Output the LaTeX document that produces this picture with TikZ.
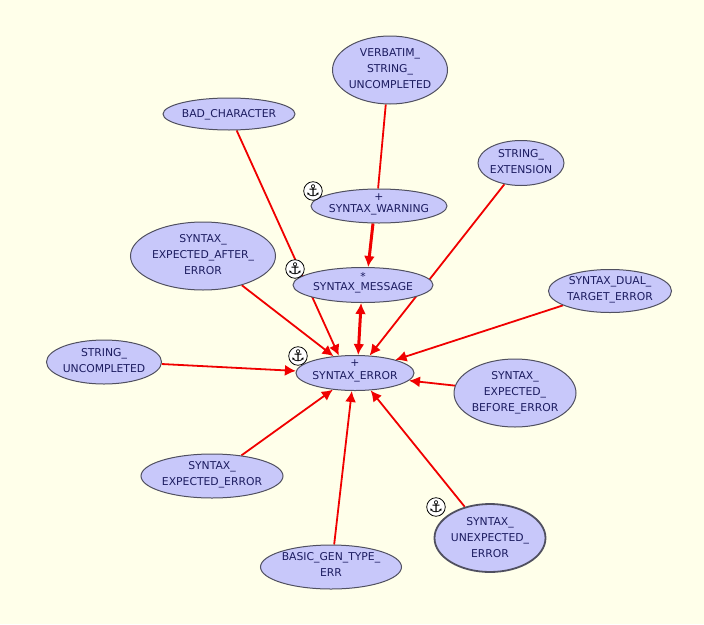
\documentclass[tikz,border=0pt]{standalone}
\usepackage{fontspec}
\setmainfont{DejaVu Sans}
\usetikzlibrary{shapes.geometric,arrows.meta,backgrounds}
\definecolor{bgc}{HTML}{FFFFEA}
\definecolor{nodefill}{HTML}{C8C8FA}
\definecolor{nodeline}{HTML}{505060}
\definecolor{nodetext}{HTML}{1C1C60}
\definecolor{edgered}{HTML}{F00000}
\newcommand\lbl[1]{\begin{tabular}{@{}c@{}}#1\end{tabular}}
\tikzset{
 cls/.style={ellipse,draw=nodeline,fill=nodefill,line width=1pt,inner sep=-8pt,text=nodetext,
   font=\fontsize{10.8}{16}\selectfont},
 deferred/.style={cls,line width=1.8pt},
 edge/.style={draw=edgered,line width=1.8pt,-{Latex[length=11pt,width=11pt]}},
 plain/.style={draw=edgered,line width=1.8pt},
 heavy/.style={draw=edgered,line width=3pt,-{Latex[length=11pt,width=11pt]}},
 both/.style={draw=edgered,line width=3pt,{Latex[length=11pt,width=11pt]}-{Latex[length=11pt,width=11pt]}},
 anchormark/.style={circle,draw=black,fill=white,line width=0.8pt,inner sep=0pt,minimum size=17pt,text=black,
   font=\fontsize{16}{16}\selectfont},
}
\begin{document}
\begin{tikzpicture}[x=1pt,y=-1pt]
\useasboundingbox (0,0) rectangle (704,624);
\node[cls,minimum width=115pt,minimum height=68pt] (ver) at (390,70) {\lbl{VERBATIM\_\\STRING\_\\UNCOMPLETED\\[2pt]}};
\node[cls,minimum width=132pt,minimum height=32pt] (bad) at (229,114) {\rule{0pt}{10.5pt}BAD\_CHARACTER};
\node[cls,minimum width=86pt,minimum height=45pt] (ext) at (521,163) {\lbl{STRING\_\\EXTENSION\\[2pt]}};
\node[cls,minimum width=136pt,minimum height=34pt] (warn) at (379,206) {\lbl{+\\[-4pt]SYNTAX\_WARNING\\[6pt]}};
\node[cls,minimum width=145pt,minimum height=68pt] (after) at (203,256) {\lbl{SYNTAX\_\\EXPECTED\_AFTER\_\\ERROR\\[2pt]}};
\node[cls,minimum width=140pt,minimum height=35pt] (msg) at (363,285) {\lbl{*\\[-6pt]SYNTAX\_MESSAGE\\[5pt]}};
\node[cls,minimum width=123pt,minimum height=43pt] (dual) at (610,291) {\lbl{SYNTAX\_DUAL\_\\TARGET\_ERROR\\[4pt]}};
\node[cls,minimum width=115pt,minimum height=44pt] (unc) at (104,362) {\lbl{STRING\_\\UNCOMPLETED\\[2pt]}};
\node[cls,minimum width=118pt,minimum height=35pt] (err) at (355,373) {\lbl{+\\[-3pt]SYNTAX\_ERROR\\[7pt]}};
\node[cls,minimum width=122pt,minimum height=68pt] (before) at (515,393) {\lbl{SYNTAX\_\\EXPECTED\_\\BEFORE\_ERROR\\[2pt]}};
\node[cls,minimum width=142pt,minimum height=44pt] (exp) at (212,476) {\lbl{SYNTAX\_\\EXPECTED\_ERROR\\[4pt]}};
\node[deferred,minimum width=111pt,minimum height=68pt] (unexp) at (490,538) {\lbl{SYNTAX\_\\UNEXPECTED\_\\ERROR}};
\node[cls,minimum width=141pt,minimum height=44pt] (basic) at (331,567) {\lbl{BASIC\_GEN\_TYPE\_\\ERR\\[4pt]}};
\node[anchormark] (a1) at (313,191) {⚓};
\node[anchormark] (a2) at (295,269) {⚓};
\node[anchormark] (a3) at (298,356) {⚓};
\node[anchormark] (a4) at (436,507) {⚓};
\begin{scope}[on background layer]
\fill[bgc] (0,0) rectangle (704,624);
\draw[plain] (ver.263) -- (warn.93);
\draw[heavy] (warn.251) -- (msg.74);
\draw[both] (msg.264) -- (err.80);
\draw[edge] (bad.-65) -- (err.133);
\draw[edge] (after.-37) -- (err.142);
\draw[edge] (ext.232) -- (err.50);
\draw[edge] (dual.197) -- (err.18);
\draw[edge] (unc.-2) -- (err.178);
\draw[edge] (before.173) -- (err.-8);
\draw[edge] (exp.35) -- (err.217);
\draw[edge] (basic.82) -- (err.260);
\draw[edge] (unexp.129) -- (err.312);
\end{scope}
\end{tikzpicture}
\end{document}
